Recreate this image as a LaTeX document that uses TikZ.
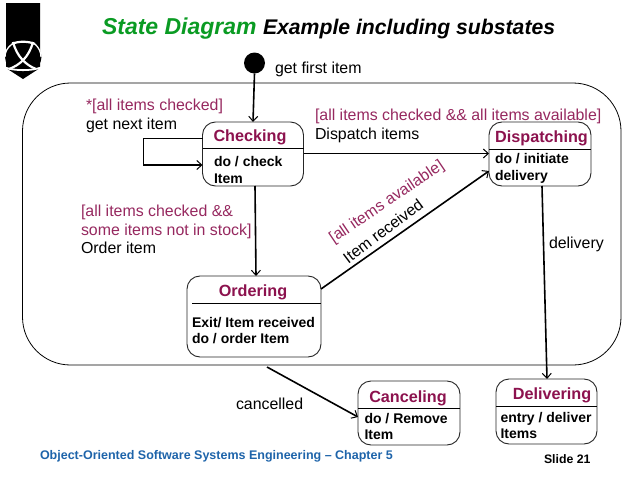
\documentclass[tikz,border=0pt]{standalone}
\usepackage{fontspec}
\setmainfont{Liberation Sans}
\usetikzlibrary{arrows.meta,calc}
\definecolor{maroon}{RGB}{140,18,78}
\definecolor{guard}{RGB}{150,40,95}
\definecolor{titlegreen}{RGB}{10,155,35}
\definecolor{footblue}{RGB}{30,100,170}
\tikzset{
 every node/.style={inner sep=0pt,outer sep=0pt},
 state/.style={draw=black!85,line width=0.9pt,rounded corners=13pt,fill=white},
 div/.style={draw=black,line width=0.8pt},
 conn/.style={draw=black,line width=1.6pt,-{Straight Barb[length=5pt,width=9pt,line width=1pt]}},
 txt/.style={anchor=base west,font=\fontsize{15.9}{18}\selectfont},
 grd/.style={txt,text=guard},
 ttl/.style={anchor=base,font=\fontsize{16.2}{18}\bfseries\selectfont,text=maroon},
 bdy/.style={anchor=base west,font=\fontsize{14}{16}\bfseries\selectfont},
}
\begin{document}
\begin{tikzpicture}[x=1pt,y=-1pt]
\useasboundingbox (0,0) rectangle (638,479);
% logo
\fill[black] (6,3) -- (40,3) -- (40,68) -- (23,79) -- (6,68) -- cycle;
\fill[black] (16,57) ellipse (11 and 12);
\fill[black] (31,57) ellipse (10.5 and 12);
\draw[white,line width=2.2pt] (12,44) .. controls (18,41) and (28,41) .. (35,44);
\draw[white,line width=2.2pt] (13,42) .. controls (17,57) and (26,65) .. (36,69);
\draw[white,line width=2.2pt] (33,42) .. controls (29,57) and (20,65) .. (9,69);
\draw[white,line width=1.8pt] (5,67.5) .. controls (14,71) and (32,71) .. (41,67.5);
\draw[white,line width=1.3pt] (12,44) .. controls (7,48) and (5,52) .. (5,57);
\draw[white,line width=1.3pt] (35,44) .. controls (39,48) and (41,52) .. (41,57);
% title
\node[anchor=base west,font=\fontsize{23}{26}\bfseries\itshape\selectfont,text=titlegreen] (t1) at (102,34.5) {State Diagram};
\node[anchor=base west,font=\fontsize{21.2}{26}\bfseries\itshape\selectfont] (t2) at (263,34.5) {Example including substates};
% composite
\node[draw=black,line width=0.8pt,rounded corners=48pt,minimum width=598.5pt,minimum height=282pt] (outer) at (321.75,224) {};
% start
\node[circle,fill=black,minimum size=21pt] (start) at (254.5,63) {};
% states
\node[state,minimum width=101pt,minimum height=64pt] (check) at (253,154) {};
\node[state,minimum width=102pt,minimum height=64pt] (disp) at (540,154) {};
\node[state,minimum width=134pt,minimum height=81pt] (order) at (254,316.5) {};
\node[state,minimum width=102pt,minimum height=64pt] (cancel) at (409,413) {};
\node[state,minimum width=101pt,minimum height=65pt] (deliv) at (546.5,411.5) {};
\draw[div] (check.west|-0,148.5) -- (check.east|-0,148.5);
\draw[div] (disp.west|-0,149) -- (disp.east|-0,149);
\draw[div] ($(order.west|-0,303)+(5,0)$) -- (order.east|-0,303);
\draw[div] (cancel.west|-0,408) -- (cancel.east|-0,408);
\draw[div] (deliv.west|-0,406) -- (deliv.east|-0,406);
% connectors
\draw[conn] (start.south) -- (check.north);
\draw[conn] (check.west|-0,138.5) -- (143.5,138.5) -- (143.5,165) -- (check.west|-0,165);
\draw[conn] (check.east|-0,153.5) -- (disp.west|-0,153.5);
\draw[conn] (255,186) -- (order.north-|256,0);
\draw[conn] (order.east|-0,289) -- (disp.west|-0,171);
\draw[conn] (542,186) -- (547,379);
\draw[conn] (267,367) -- (cancel.west|-0,417);
% state text
\node[ttl] (a1) at (250,141.5) {Checking};
\node[bdy] (a2) at (214,166) {do / check};
\node[bdy] (a3) at (214,183) {Item};
\node[ttl] (b1) at (541.5,142) {Dispatching};
\node[bdy] (b2) at (495,163) {do / initiate};
\node[bdy] (b3) at (495,180) {delivery};
\node[ttl] (c1) at (253,296) {Ordering};
\node[bdy] (c2) at (192,327) {Exit/ Item received};
\node[bdy] (c3) at (192,343) {do / order Item};
\node[ttl] (d1) at (408,402) {Canceling};
\node[bdy] (d2) at (364.5,423) {do / Remove};
\node[bdy] (d3) at (364.5,439) {Item};
\node[ttl] (e1) at (552,399) {Delivering};
\node[bdy] (e2) at (500.5,422) {entry / deliver};
\node[bdy] (e3) at (500.5,438) {Items};
% labels
\node[txt] (l1) at (275,73) {get first item};
\node[grd] (l2) at (86,110) {*[all items checked]};
\node[txt] (l3) at (86,129) {get next item};
\node[grd] (l4) at (315,120.5) {[all items checked \&\& all items available]};
\node[txt] (l5) at (315,139) {Dispatch items};
\node[grd] (l6) at (81,216) {[all items checked \&\&};
\node[grd] (l7) at (81,235) {some items not in stock]};
\node[txt] (l8) at (81,253) {Order item};
\node[grd,anchor=center,rotate=34] (l9) at (387,202.5) {[all items available]};
\node[txt,anchor=center,rotate=37] (l10) at (383,231) {Item received};
\node[txt] (l11) at (549,248) {delivery};
\node[txt] (l12) at (236,409) {cancelled};
% footer
\node[anchor=base west,font=\fontsize{12.5}{14}\bfseries\selectfont,text=footblue] (f1) at (40,459) {Object-Oriented Software Systems Engineering – Chapter 5};
\node[anchor=base west,font=\fontsize{12.3}{14}\bfseries\selectfont] (f2) at (544,463) {Slide 21};
\end{tikzpicture}
\end{document}
